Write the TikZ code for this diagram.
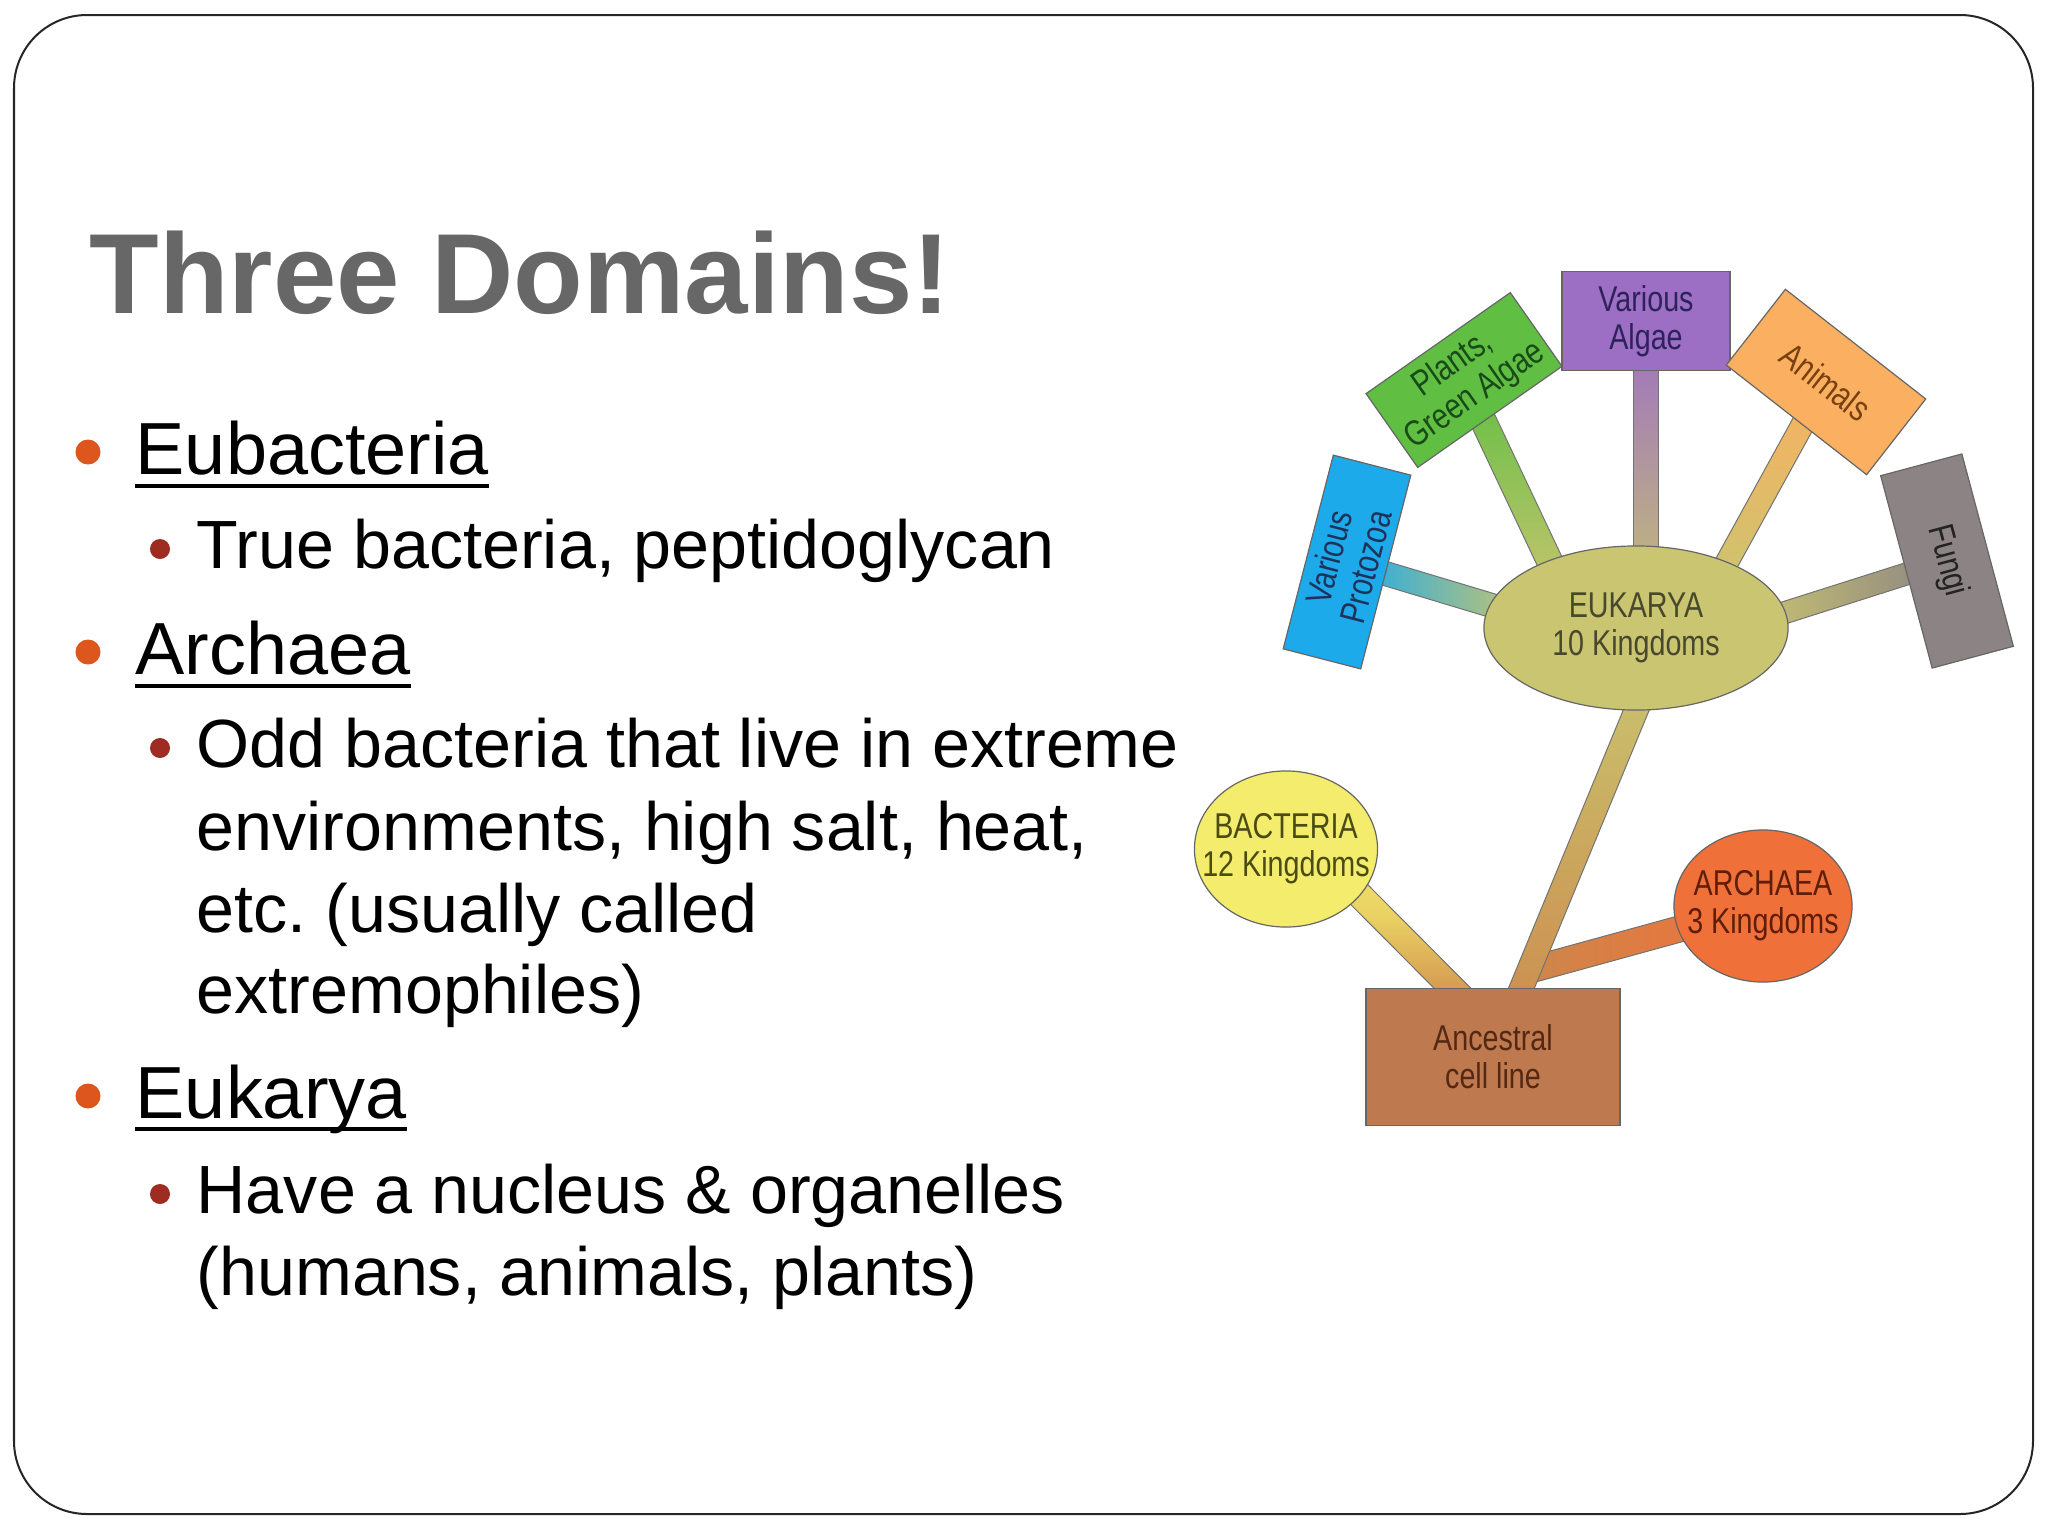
\documentclass[tikz,border=0pt]{standalone}
\usepackage{fontspec}
\setmainfont{Liberation Sans}
\newfontfamily\diagfont{Liberation Sans}[FakeStretch=0.8]
\usetikzlibrary{shapes.geometric, calc, backgrounds}
\frenchspacing

\definecolor{titlegray}{RGB}{103,103,103}
\definecolor{dotorange}{RGB}{221,86,30}
\definecolor{dotred}{RGB}{158,44,34}
\definecolor{eukfill}{RGB}{201,197,112}
\definecolor{protofill}{RGB}{28,170,235}
\definecolor{plantfill}{RGB}{96,190,66}
\definecolor{algaefill}{RGB}{156,110,196}
\definecolor{animalfill}{RGB}{250,176,96}
\definecolor{fungifill}{RGB}{140,132,132}
\definecolor{bactfill}{RGB}{243,236,108}
\definecolor{archfill}{RGB}{240,112,58}
\definecolor{ancfill}{RGB}{190,121,79}
\definecolor{trunkfill}{RGB}{205,135,75}

\newcommand{\titlefont}{\bfseries\fontsize{32.4}{38}\selectfont}
\newcommand{\itemfont}{\fontsize{21}{25}\selectfont}
\newcommand{\subitemfont}{\fontsize{19.4}{23.5}\selectfont}
\newcommand{\kingdomfont}{\diagfont\fontsize{10.2}{10.8}\selectfont}

% a branch of the tree: from, to, half width, shading
\newcommand{\drawstem}[4]{%
	\shadedraw[stemline, #4] ($(#1)!#3!90:(#2)$) -- ($(#1)!#3!-90:(#2)$)
		-- ($(#2)!#3!90:(#1)$) -- ($(#2)!#3!-90:(#1)$) -- cycle;}

\tikzset{
	x=0.01cm, y=-0.01cm, % one unit is one pixel of the slide, y runs down
	every node/.style={inner sep=0pt},
	titletext/.style={font=\titlefont, text=titlegray, anchor=base west},
	itemtext/.style={font=\itemfont, anchor=base west},
	subtext/.style={font=\subitemfont, anchor=base west},
	bulletdot/.style={circle, fill=dotorange, minimum size=0.25cm}, % first level bullet
	subbullet/.style={circle, fill=dotred, minimum size=0.2cm}, % second level bullet
	uline/.style={line width=0.04cm},
	kingdombox/.style={draw=black!60, line width=0.012cm, font=\kingdomfont, align=center},
	domainblob/.style={kingdombox, ellipse},
	stemline/.style={draw=black!55, line width=0.01cm},
}

\begin{document}
\begin{tikzpicture}
	\useasboundingbox (0,0) rectangle (2048,1536);
	\draw[line width=0.02cm, black!85, rounded corners=0.73cm] (14,15) rectangle (2033,1514);

	% the text of the slide
	\node[titletext] (title) at (89,313) {Three Domains!};

	\node[bulletdot] (b1) at (88,452) {};
	\node[itemtext] (eub) at (135,474) {Eubacteria};
	\node[subbullet] (b11) at (160,549) {};
	\node[subtext] (eubnote) at (196,568) {True bacteria, peptidoglycan};

	\node[bulletdot] (b2) at (88,652) {};
	\node[itemtext] (arc) at (135,674) {Archaea};
	\node[subbullet] (b21) at (160,748) {};
	\node[subtext] (arcnote1) at (196,767) {Odd bacteria that live in extreme};
	\node[subtext] (arcnote2) at (196,850) {environments, high salt, heat,};
	\node[subtext] (arcnote3) at (196,932) {etc. (usually called};
	\node[subtext] (arcnote4) at (196,1013) {extremophiles)};

	\node[bulletdot] (b3) at (88,1096) {};
	\node[itemtext] (eukitem) at (135,1118) {Eukarya};
	\node[subbullet] (b31) at (160,1194) {};
	\node[subtext] (euknote1) at (196,1213) {Have a nucleus \& organelles};
	\node[subtext] (euknote2) at (196,1295) {(humans, animals, plants)};

	\draw[uline] ([yshift=-0.12cm]eub.base west) -- ([yshift=-0.12cm]eub.base east);
	\draw[uline] ([yshift=-0.12cm]arc.base west) -- ([yshift=-0.12cm]arc.base east);
	\draw[uline] ([yshift=-0.11cm]eukitem.base west) -- ([yshift=-0.11cm]eukitem.base east);

	% the tree
	\node[domainblob, fill=eukfill, minimum width=3.04cm, minimum height=1.64cm, text={rgb,255:red,72;green,72;blue,45}] (euk) at (1636,628) {EUKARYA\\10 Kingdoms};
	\node[domainblob, fill=bactfill, minimum width=1.82cm, minimum height=1.56cm, inner xsep=-0.19cm, text={rgb,255:red,75;green,75;blue,20}] (bact) at (1286,849) {BACTERIA\\12 Kingdoms};
	\node[domainblob, fill=archfill, minimum width=1.78cm, minimum height=1.52cm, inner xsep=-0.13cm, text={rgb,255:red,95;green,30;blue,10}] (arch) at (1763,906) {ARCHAEA\\3 Kingdoms};
	\node[kingdombox, fill=ancfill, minimum width=2.54cm, minimum height=1.37cm, text={rgb,255:red,85;green,40;blue,20}] (anc) at (1493,1057) {Ancestral\\cell line};

	\node[kingdombox, fill=algaefill, minimum width=1.68cm, minimum height=0.99cm, text={rgb,255:red,45;green,35;blue,90}] (algae) at (1646,321) {Various\\Algae};
	\node[kingdombox, fill=plantfill, minimum width=1.76cm, minimum height=0.9cm, rotate=35, text={rgb,255:red,25;green,75;blue,25}] (plants) at (1464,380) {Plants,\\Green Algae};
	\node[kingdombox, fill=protofill, minimum width=2cm, minimum height=0.8cm, rotate=75.5, text={rgb,255:red,30;green,50;blue,90}] (proto) at (1347,562) {Various\\Protozoa};
	\node[kingdombox, fill=animalfill, minimum width=1.78cm, minimum height=0.96cm, rotate=-38, text={rgb,255:red,120;green,65;blue,15}] (animals) at (1826,382) {Animals};
	\node[kingdombox, fill=fungifill, minimum width=1.99cm, minimum height=0.84cm, rotate=-75, text={rgb,255:red,35;green,35;blue,35}] (fungi) at (1947,561) {Fungi};

	\begin{scope}[on background layer]
		\coordinate (protoend) at ($(proto)!1.25!(euk.171)$);
		\coordinate (plantsend) at ($(plants)!1.2!(euk.142)$);
		\coordinate (algaeend) at (algae |- euk);
		\coordinate (animalsend) at ($(animals)!1.2!(euk.36)$);
		\coordinate (fungiend) at ($(fungi)!1.25!(euk.6)$);
		\coordinate (trunkend) at ($(anc)!1.15!(euk.south)$);
		\coordinate (fork) at ($(anc)!0.25!(euk.south)$);
		\coordinate (bactstart) at ([yshift=0.28cm]bact.center);
		\coordinate (bactfoot) at ([xshift=-0.21cm, yshift=-0.2cm]anc.north);

		\drawstem{proto}{protoend}{0.12cm}{left color=protofill, right color=eukfill}
		\drawstem{plants}{plantsend}{0.13cm}{top color=plantfill, bottom color=eukfill}
		\drawstem{algae}{algaeend}{0.125cm}{top color=algaefill, bottom color=eukfill}
		\drawstem{animals}{animalsend}{0.115cm}{top color=animalfill, bottom color=eukfill}
		\drawstem{fungi}{fungiend}{0.11cm}{left color=eukfill, right color=fungifill}
		\drawstem{bactstart}{bactfoot}{0.13cm}{top color=bactfill, bottom color=trunkfill, middle color=bactfill!75!trunkfill}
		\drawstem{fork}{arch}{0.13cm}{left color=trunkfill, right color=archfill}
		\drawstem{anc}{trunkend}{0.12cm}{top color=eukfill, bottom color=trunkfill}
	\end{scope}
\end{tikzpicture}
\end{document}
